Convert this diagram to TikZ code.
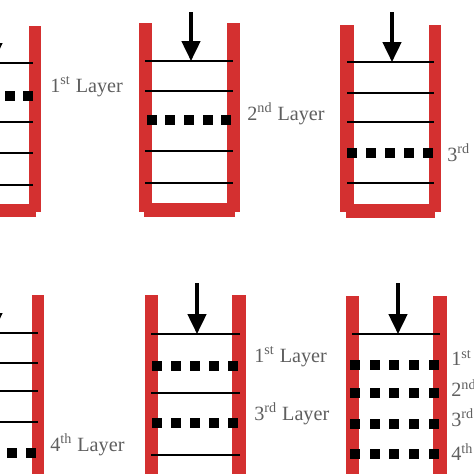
\documentclass[tikz,border=0pt]{standalone}
\usepackage{fontspec}
\setmainfont{Liberation Serif}
\usetikzlibrary{arrows.meta}
\definecolor{wallred}{RGB}{212,48,48}
\definecolor{lblgray}{RGB}{95,95,95}
\newcommand\sqrow[2]{\foreach \c in {#2} \fill[sqdot] (\c-5,#1-5) rectangle (\c+5,#1+5);}
\begin{document}
\begin{tikzpicture}[x=0.02cm,y=-0.02cm,
  wall/.style={fill=wallred},
  layerline/.style={line width=1.1pt, draw=black},
  sqdot/.style={fill=black},
  press/.style={line width=1.8pt, -{Triangle[length=0.4cm,width=0.37cm]}},
  lbl/.style={anchor=west, inner sep=0pt, text=lblgray, font=\fontsize{11.5}{13}\selectfont}]
\useasboundingbox (0,0) rectangle (474,474);
\clip (0,0) rectangle (474,474);
\fill[white] (0,0) rectangle (474,474);

% ---------- Container 1 ----------
\fill[wall] (-55,26) rectangle (-43,212);
\fill[wall] (29,26) rectangle (41,212);
\fill[wall] (-50,204) rectangle (36,217);
\foreach \y in {63,122,153,185} \draw[layerline] (-48,\y) -- (33,\y);
\sqrow{96}{-27.5,-9,9.5,27.5}
\coordinate (a1s) at (-7,12); \coordinate (a1e) at (-7,63);
\draw[press] (a1s) -- (a1e);
\node[lbl] (l1) at (50,87) {1\textsuperscript{st} Layer};

% ---------- Container 2 ----------
\fill[wall] (139,23) rectangle (152,212);
\fill[wall] (227,23) rectangle (240,212);
\fill[wall] (144,203) rectangle (235,217);
\foreach \y in {61,91,151,183} \draw[layerline] (145,\y) -- (233,\y);
\sqrow{120}{152,170,189,208,226}
\coordinate (a2s) at (191,12); \coordinate (a2e) at (191,61);
\draw[press] (a2s) -- (a2e);
\node[lbl] (l2) at (247,114) {2\textsuperscript{nd} Layer};

% ---------- Container 3 ----------
\fill[wall] (340,25) rectangle (354,212);
\fill[wall] (429,25) rectangle (441,212);
\fill[wall] (346,204) rectangle (435,218);
\foreach \y in {62,93,122,183} \draw[layerline] (347,\y) -- (434,\y);
\sqrow{153}{352,371,390,409,428}
\coordinate (a3s) at (392,12); \coordinate (a3e) at (392,62);
\draw[press] (a3s) -- (a3e);
\node[lbl] (l3) at (447,153) {3\textsuperscript{rd}};

% ---------- Container 4 ----------
\fill[wall] (-55,295) rectangle (-43,480);
\fill[wall] (32,295) rectangle (44,480);
\foreach \y in {333,363,391,422} \draw[layerline] (-48,\y) -- (38,\y);
\sqrow{453}{-26,-7,12,31}
\coordinate (a4s) at (-7,283); \coordinate (a4e) at (-7,333);
\draw[press] (a4s) -- (a4e);
\node[lbl] (l4) at (50,445) {4\textsuperscript{th} Layer};

% ---------- Container 5 ----------
\fill[wall] (145,295) rectangle (158,480);
\fill[wall] (232,295) rectangle (246,480);
\foreach \y in {334,393,455} \draw[layerline] (151,\y) -- (240,\y);
\sqrow{366}{157,176,195,214,233}
\sqrow{423}{157,176,195,214,233}
\coordinate (a5s) at (197,283); \coordinate (a5e) at (197,334);
\draw[press] (a5s) -- (a5e);
\node[lbl] (l5a) at (254,357) {1\textsuperscript{st} Layer};
\node[lbl] (l5b) at (254,414) {3\textsuperscript{rd} Layer};

% ---------- Container 6 ----------
\fill[wall] (346,296) rectangle (359,480);
\fill[wall] (433,296) rectangle (447,480);
\draw[layerline] (352,334) -- (440,334);
\foreach \r in {365,393,424,454} {\sqrow{\r}{355,375,394,414,434}}
\coordinate (a6s) at (398,283); \coordinate (a6e) at (398,334);
\draw[press] (a6s) -- (a6e);
\node[lbl] (l6a) at (451,358) {1\textsuperscript{st}};
\node[lbl] (l6b) at (451,388) {2\textsuperscript{nd}};
\node[lbl] (l6c) at (451,418) {3\textsuperscript{rd}};
\node[lbl] (l6d) at (451,452) {4\textsuperscript{th}};
\end{tikzpicture}
\end{document}
